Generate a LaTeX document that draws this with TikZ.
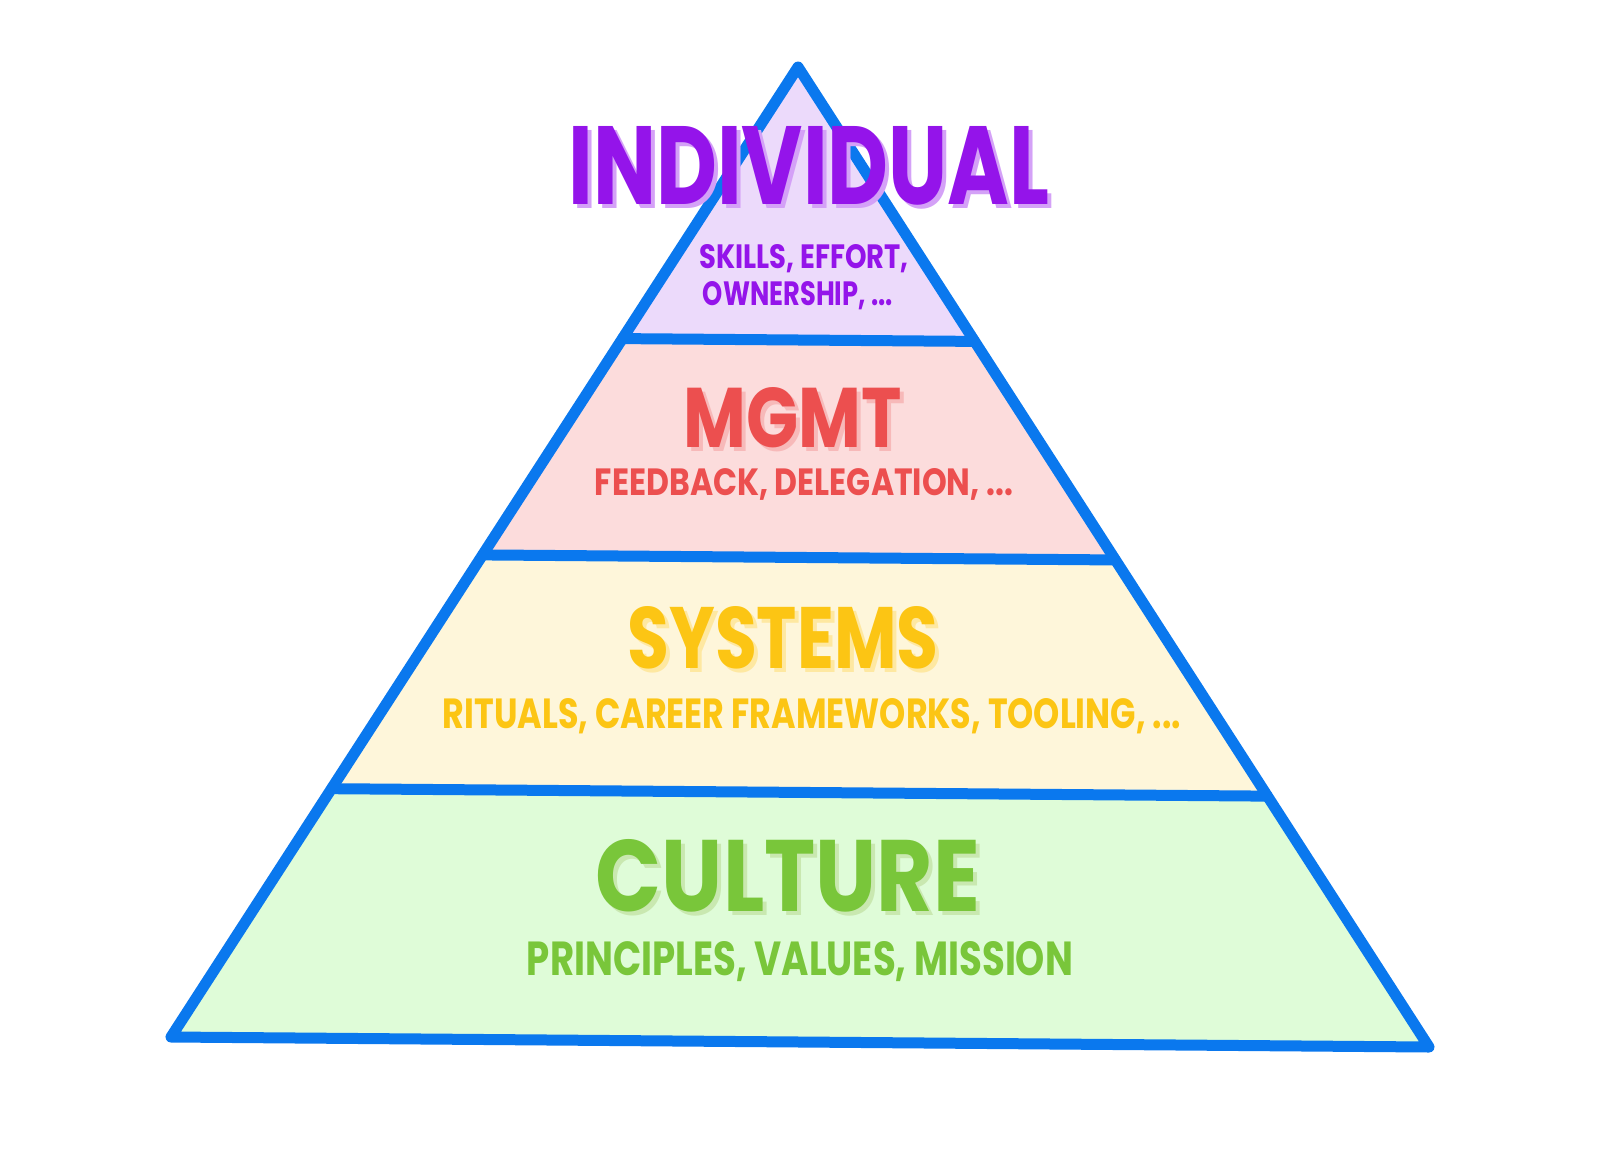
\documentclass[tikz,border=0pt]{standalone}
\usepackage{fontspec}
\usepackage{graphicx}
\setmainfont{Poppins}
\usetikzlibrary{calc}
\definecolor{pblue}{HTML}{0A78EE}
\definecolor{cpur}{HTML}{9414EA}\definecolor{fpur}{HTML}{ECDAFB}
\definecolor{cred}{HTML}{EC4F4F}\definecolor{fred}{HTML}{FCDCDC}
\definecolor{cyel}{HTML}{FCC514}\definecolor{fyel}{HTML}{FEF6DA}
\definecolor{cgrn}{HTML}{79C63A}\definecolor{fgrn}{HTML}{DFFCD8}
\newcommand{\fit}[3]{\resizebox{#1pt}{#2pt}{\bfseries #3}}
\tikzset{lbl/.style={inner sep=0pt,anchor=center}, edge/.style={draw=pblue,line width=11pt,line join=round,line cap=round}}
\begin{document}
\begin{tikzpicture}[x=1pt,y=-1pt]
\useasboundingbox (0,0) rectangle (1622,1170);
\coordinate (A) at (798,67);
\coordinate (BL) at (171,1037);
\coordinate (BR) at (1429,1047);
\coordinate (L1) at ($(A)!0.280!(BL)$); \coordinate (R1) at ($(A)!0.280!(BR)$);
\coordinate (L2) at ($(A)!0.503!(BL)$); \coordinate (R2) at ($(A)!0.503!(BR)$);
\coordinate (L3) at ($(A)!0.744!(BL)$); \coordinate (R3) at ($(A)!0.744!(BR)$);
\fill[fpur] (A)--(R1)--(L1)--cycle;
\fill[fred] (L1)--(R1)--(R2)--(L2)--cycle;
\fill[fyel] (L2)--(R2)--(R3)--(L3)--cycle;
\fill[fgrn] (L3)--(R3)--(BR)--(BL)--cycle;
\draw[edge] (A)--(BR)--(BL)--cycle;
\draw[edge] (L1)--(R1) (L2)--(R2) (L3)--(R3);
\node[lbl,text=cpur!40] at (813,170) {\fit{481}{78}{INDIVIDUAL}};
\node[lbl,text=cpur] (t1) at (809,166) {\fit{481}{78}{INDIVIDUAL}};
\node[lbl,text=cpur] (s1a) at (804,259) {\fit{209}{24}{SKILLS, EFFORT,}};
\node[lbl,text=cpur] (s1b) at (798,296) {\fit{190}{24}{OWNERSHIP, ...}};
\node[lbl,text=cred!40] at (797,422) {\fit{218}{60}{MGMT}};
\node[lbl,text=cred] (t2) at (793,418) {\fit{218}{60}{MGMT}};
\node[lbl,text=cred] (s2) at (804,484) {\fit{418}{27}{FEEDBACK, DELEGATION, ...}};
\node[lbl,text=cyel!40] at (787,642) {\fit{311}{62}{SYSTEMS}};
\node[lbl,text=cyel] (t3) at (783,638) {\fit{311}{62}{SYSTEMS}};
\node[lbl,text=cyel] (s3) at (812,716) {\fit{738}{30}{RITUALS, CAREER FRAMEWORKS, TOOLING, ...}};
\node[lbl,text=cgrn!40] at (792,880) {\fit{384}{72}{CULTURE}};
\node[lbl,text=cgrn] (t4) at (788,876) {\fit{384}{72}{CULTURE}};
\node[lbl,text=cgrn] (s4) at (800,962) {\fit{546}{34}{PRINCIPLES, VALUES, MISSION}};
\end{tikzpicture}
\end{document}
